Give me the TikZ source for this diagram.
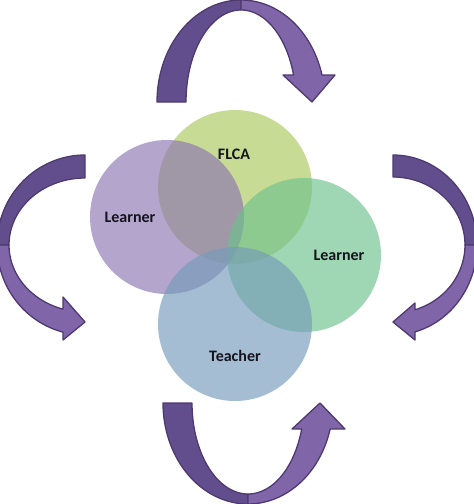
\documentclass[tikz,border=0pt]{standalone}
\usepackage{fontspec}
\newfontfamily\lblfont{Carlito}
\definecolor{arrdark}{RGB}{98,78,140}
\definecolor{arrlight}{RGB}{128,102,168}
\definecolor{arredge}{RGB}{78,58,112}
\definecolor{cpurple}{RGB}{140,117,178}
\definecolor{cgreen}{RGB}{170,201,93}
\definecolor{cmint}{RGB}{109,193,140}
\definecolor{cblue}{RGB}{117,155,186}
\definecolor{txt}{RGB}{20,20,30}
\tikzset{
  venn/.style={circle,minimum size=154pt,inner sep=0pt,fill opacity=0.65,draw=none},
  lbl/.style={anchor=base,text=txt,font=\lblfont\bfseries\fontsize{16}{19}\selectfont},
  darkpart/.style={fill=arrdark,draw=arredge,line width=1.3pt,line join=round},
  lightpart/.style={fill=arrlight,draw=arredge,line width=1.3pt,line join=round}
}
% ribbon arrow: uses \cx \cy \ux \uy \vx \vy \Ao \Bo \Ai \Bi \Vb \Ui \Ut \Uo
\newcommand\ribbonarrow{%
  \pgfmathsetmacro\tOut{asin(\Vb/\Bo)}%
  \pgfmathsetmacro\tIn{asin(\Vb/\Bi)}%
  \filldraw[darkpart]
    plot[domain=180:90,samples=40,smooth] ({\cx+\Ao*cos(\x)*\ux+\Bo*sin(\x)*\vx},{\cy+\Ao*cos(\x)*\uy+\Bo*sin(\x)*\vy})
    -- plot[domain=90:180,samples=40,smooth] ({\cx+\Ai*cos(\x)*\ux+\Bi*sin(\x)*\vx},{\cy+\Ai*cos(\x)*\uy+\Bi*sin(\x)*\vy})
    -- cycle;
  \filldraw[lightpart]
    plot[domain=90:\tOut,samples=40,smooth] ({\cx+\Ao*cos(\x)*\ux+\Bo*sin(\x)*\vx},{\cy+\Ao*cos(\x)*\uy+\Bo*sin(\x)*\vy})
    -- ({\cx+\Uo*\ux+\Vb*\vx},{\cy+\Uo*\uy+\Vb*\vy})
    -- ({\cx+\Ut*\ux},{\cy+\Ut*\uy})
    -- ({\cx+\Ui*\ux+\Vb*\vx},{\cy+\Ui*\uy+\Vb*\vy})
    -- plot[domain=\tIn:90,samples=40,smooth] ({\cx+\Ai*cos(\x)*\ux+\Bi*sin(\x)*\vx},{\cy+\Ai*cos(\x)*\uy+\Bi*sin(\x)*\vy})
    -- cycle;
}
\begin{document}
\begin{tikzpicture}[x=1pt,y=-1pt]
\fill[white] (0,0) rectangle (474,504);
\useasboundingbox (0,0) rectangle (474,504);

% circles
\node[venn,fill=cgreen]  (cflca)    at (235,187) {};
\node[venn,fill=cpurple] (clearnl)  at (167,217) {};
\node[venn,fill=cmint]   (clearnr)  at (304,255) {};
\node[venn,fill=cblue]   (cteacher) at (235,324) {};

% labels
\node[lbl] (tflca)    at (234,159) {FLCA};
\node[lbl] (tlearnl)  at (130,222) {Learner};
\node[lbl] (tlearnr)  at (339,260) {Learner};
\node[lbl] (tteacher) at (235,361) {Teacher};

% top arrow
\def\cx{241}\def\cy{102}\def\ux{1}\def\uy{0}\def\vx{0}\def\vy{-1}
\def\Ao{84}\def\Bo{102}\def\Ai{55}\def\Bi{92}
\def\Vb{27}\def\Ui{42}\def\Ut{71}\def\Uo{94}
\ribbonarrow
% bottom arrow
\def\cx{248}\def\cy{403}\def\ux{1}\def\uy{0}\def\vx{0}\def\vy{1}
\def\Ao{85}\def\Bo{101}\def\Ai{56}\def\Bi{91}
\def\Vb{26}\def\Ui{44}\def\Ut{72}\def\Uo{97}
\ribbonarrow
% left arrow
\def\cx{85}\def\cy{245}\def\ux{0}\def\uy{1}\def\vx{-1}\def\vy{0}
\def\Ao{90}\def\Bo{88}\def\Ai{67}\def\Bi{76}
\def\Vb{22}\def\Ui{52}\def\Ut{77}\def\Uo{95}
\ribbonarrow
% right arrow
\def\cx{393}\def\cy{245}\def\ux{0}\def\uy{1}\def\vx{1}\def\vy{0}
\def\Ao{90}\def\Bo{84}\def\Ai{68}\def\Bi{72}
\def\Vb{22}\def\Ui{58}\def\Ut{77}\def\Uo{95}
\ribbonarrow
\end{tikzpicture}
\end{document}
